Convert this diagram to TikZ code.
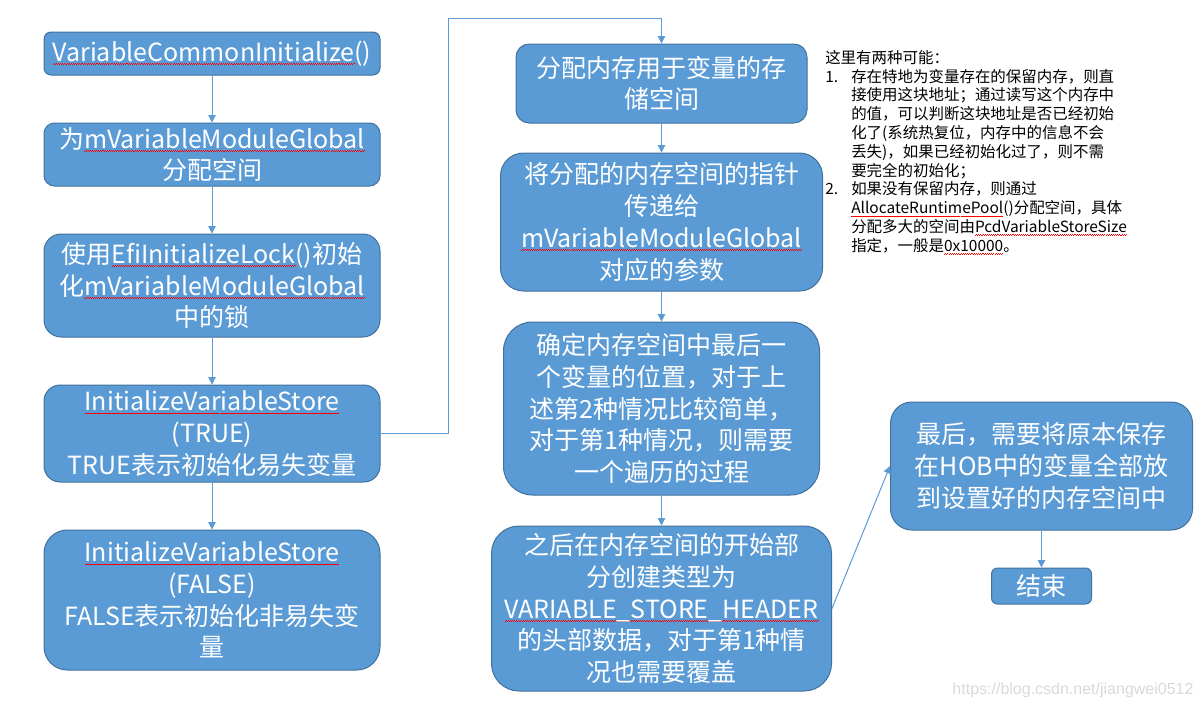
\documentclass[tikz,border=0pt]{standalone}
\usepackage{fontspec}
\setmainfont{Noto Sans CJK SC}
\newfontfamily\wmfont{Liberation Sans}
\usepackage{xcolor}
\usetikzlibrary{calc, arrows.meta}

\definecolor{boxfill}{RGB}{91,155,213}
\definecolor{boxline}{RGB}{65,113,156}
\def\px{0.75pt}
\newsavebox\spellbox
\newcommand\spellchk[1]{\sbox\spellbox{#1}\rlap{\textcolor{red}{\hbox to \wd\spellbox{\xleaders\hbox{\rule[-2.4pt]{0.8pt}{0.45pt}\rule[-1.9pt]{0.8pt}{0.45pt}}\hfill}}}\usebox\spellbox}

\begin{document}
\begin{tikzpicture}[x=\px, y=-\px]
    \tikzset{
      stepbox/.style 2 args={
        rectangle, draw=boxline, fill=boxfill, line width=0.75pt,
        minimum width=#1*\px, minimum height=#2*\px,
        rounded corners=#2*\px/6, inner sep=0pt,
        align=center, text=white,
        font=\fontsize{18.75}{23.8}\selectfont,
      },
      link/.style={
        -{Triangle[length=5.5pt, width=5.5pt]}, draw=boxfill, line width=0.75pt,
      },
      note/.style={
        anchor=north west, align=left, inner sep=0pt,
        font=\fontsize{11.6}{14.1}\selectfont,
      },
    }

    \useasboundingbox (0,0) rectangle (1202,707);

    \node[stepbox={336}{43}] (init) at (212,53.5) {\spellchk{VariableCommonInitialize}()};

    \node[stepbox={336}{63}] (allocglobal) at ($(init) + (0,+101)$) {为\spellchk{mVariableModuleGlobal}\\分配空间};
    \draw[link] (init) -- (allocglobal);

    \node[stepbox={336}{103}] (initlock) at ($(allocglobal) + (0,+131)$) {使用\spellchk{EfiInitializeLock}()初始\\化\spellchk{mVariableModuleGlobal}\\中的锁};
    \draw[link] (allocglobal) -- (initlock);

    \node[stepbox={336}{97}] (truestore) at ($(initlock) + (0,+148)$) {\spellchk{InitializeVariableStore}\\(TRUE)\\TRUE表示初始化易失变量};
    \draw[link] (initlock) -- (truestore);

    \node[stepbox={336}{140}] (falsestore) at ($(truestore) + (0,+166.5)$) {\spellchk{InitializeVariableStore}\\(FALSE)\\FALSE表示初始化非易失变\\量};
    \draw[link] (truestore) -- (falsestore);

    \node[stepbox={291}{79}] (space) at (661.5,83.5) {分配内存用于变量的存\\储空间};
    \coordinate (bend) at (448,18);
    \draw[link] (truestore.east) -| (bend) -| (space.north);

    \node[stepbox={322}{138}] (pointer) at ($(space) + (0,+138.5)$) {将分配的内存空间的指针\\传递给\\\spellchk{mVariableModuleGlobal}\\对应的参数};
    \draw[link] (space) -- (pointer);

    \node[stepbox={316}{173}] (lastvar) at ($(pointer) + (0,+186.5)$) {确定内存空间中最后一\\个变量的位置，对于上\\述第2种情况比较简单，\\对于第1种情况，则需要\\一个遍历的过程};
    \draw[link] (pointer) -- (lastvar);

    \node[stepbox={340}{165}] (header) at ($(lastvar) + (0,+200)$) {之后在内存空间的开始部\\分创建类型为\\\spellchk{VARIABLE\_STORE\_HEADER}\\的头部数据，对于第1种情\\况也需要覆盖};
    \draw[link] (lastvar) -- (header);

    \node[stepbox={302}{128}] (final) at (1041.5,466) {最后，需要将原本保存\\在HOB中的变量全部放\\到设置好的内存空间中};
    \draw[link] (header.east) -- (final.west);

    \node[stepbox={100}{36}] (finish) at ($(final) + (0,+120)$) {结束};
    \draw[link] (final) -- (finish);

    \node[note] (twocases) at (825,50) {这里有两种可能：\\
      \makebox[19.5pt][l]{1.}存在特地为变量存在的保留内存，则直\\
      \hspace*{19.5pt}接使用这块地址；通过读写这个内存中\\
      \hspace*{19.5pt}的值，可以判断这块地址是否已经初始\\
      \hspace*{19.5pt}化了(系统热复位，内存中的信息不会\\
      \hspace*{19.5pt}丢失)，如果已经初始化过了，则不需\\
      \hspace*{19.5pt}要完全的初始化；\\
      \makebox[19.5pt][l]{2.}如果没有保留内存，则通过\\
      \hspace*{19.5pt}\spellchk{AllocateRuntimePool}()分配空间，具体\\
      \hspace*{19.5pt}分配多大的空间由\spellchk{PcdVariableStoreSize}\\
      \hspace*{19.5pt}指定，一般是\spellchk{0x10000}。};

    % watermark
    \node[text=black!15, font=\wmfont\fontsize{12}{14}\selectfont] (mark) at (1073,690) {https://blog.csdn.net/jiangwei0512};
\end{tikzpicture}
\end{document}
